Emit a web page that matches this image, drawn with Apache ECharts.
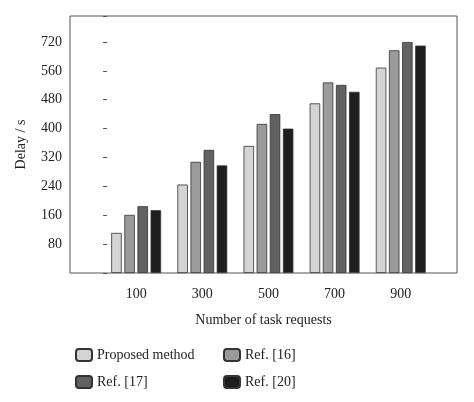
<!DOCTYPE html>
<html><head><meta charset="utf-8">
<script src="https://cdn.jsdelivr.net/npm/echarts@6/dist/echarts.min.js"></script>
<style>html,body{margin:0;background:#fff}#c{width:474px;height:402px}</style></head>
<body><div id="c"></div>
<script>
const categories = [100, 300, 500, 700, 900];
const seriesNames = ['Proposed method', 'Ref. [16]', 'Ref. [17]', 'Ref. [20]'];
const proposed = [111, 245, 352, 470, 569];
const ref16 = [161, 308, 413, 528, 617];
const ref17 = [185, 341, 440, 521, 640];
const ref20 = [174, 298, 400, 502, 630];
// tick labels exactly as printed on the reference (its top label reads 720)
const yTickValues = [80, 160, 240, 320, 400, 480, 560, 640];
const yTickLabels = ['80', '160', '240', '320', '400', '480', '560', '720'];
const colors = ['#d4d4d4', '#9b9b9b', '#626262', '#1e1e1e'];
const font = 'Liberation Serif';
const allData = [proposed, ref16, ref17, ref20];
const chart = echarts.init(document.getElementById('c'));
const legendPos = [[70, 343], [218, 343], [70, 370], [218, 370]];
chart.setOption({
  animation: false,
  textStyle: {fontFamily: font},
  grid: {left: 70, right: 17, top: 16, bottom: 129, show: true, borderColor: '#555', borderWidth: 1},
  xAxis: {
    type: 'value', min: -100, max: 1070, interval: 100,
    name: 'Number of task requests', nameLocation: 'middle', nameGap: 40,
    nameTextStyle: {fontFamily: font, fontSize: 14, color: '#222'},
    axisLine: {show: false}, axisTick: {show: false}, splitLine: {show: false},
    axisLabel: {fontFamily: font, fontSize: 14, color: '#222', margin: 14,
      formatter: v => categories.includes(v) ? String(v) : ''}
  },
  yAxis: {
    type: 'value', min: 0, max: 712, interval: 80,
    name: 'Delay / s', nameLocation: 'middle', nameGap: 42,
    nameTextStyle: {fontFamily: font, fontSize: 14, color: '#222'},
    axisLine: {show: false}, splitLine: {show: false},
    axisTick: {show: true, inside: true, length: 4, lineStyle: {color: '#555'}},
    axisLabel: {fontFamily: font, fontSize: 14, color: '#222',
      formatter: v => { const i = yTickValues.indexOf(v); return i >= 0 ? yTickLabels[i] : ''; }}
  },
  legend: seriesNames.map((n, i) => ({
    data: [n], left: legendPos[i][0], top: legendPos[i][1], itemWidth: 16, itemHeight: 12,
    textStyle: {fontFamily: font, fontSize: 14, color: '#222'}
  })),
  series: seriesNames.map((n, i) => ({
    name: n, type: 'bar', barWidth: 10.5, barGap: '25%',
    itemStyle: {color: colors[i], borderColor: '#333', borderWidth: 0.8},
    data: categories.map((c, j) => [c, allData[i][j]])
  }))
});
</script></body></html>
